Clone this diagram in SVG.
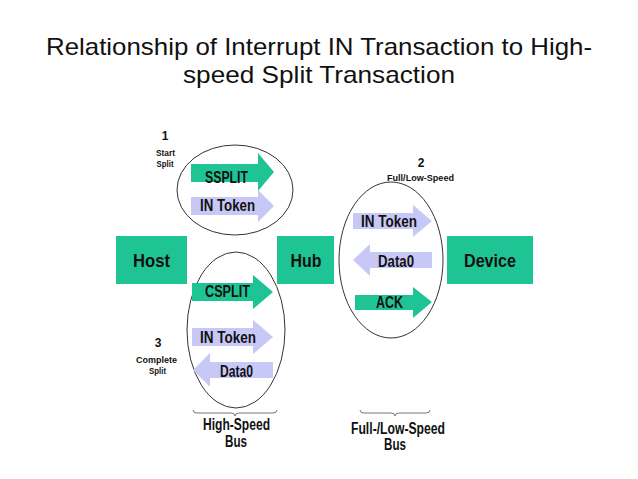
<svg xmlns="http://www.w3.org/2000/svg" width="638" height="479" viewBox="0 0 638 479">
<style>
.title{font-family:"Liberation Sans",Arial,sans-serif;font-size:24px;fill:#111;text-anchor:middle}
.box{fill:#1fc495}
.g{fill:#1fc495}
.l{fill:#c8c8f6}
.lbl{font-family:"Liberation Sans",Arial,sans-serif;font-weight:bold;fill:#111;text-anchor:middle}
.big{font-size:19px}
.arr{font-size:17px}
.sm{font-size:9px}
.num{font-size:12px}
.bus{font-size:16px}
.ell{fill:none;stroke:#333;stroke-width:1}
.brace{fill:none;stroke:#777;stroke-width:1}
</style>
<rect width="638" height="479" fill="#fff"/>
<text class="title" x="319" y="55" textLength="546" lengthAdjust="spacingAndGlyphs">Relationship of Interrupt IN Transaction to High-</text>
<text class="title" x="319" y="83" textLength="272" lengthAdjust="spacingAndGlyphs">speed Split Transaction</text>

<g id="connectors">
  <ellipse class="ell" cx="235" cy="190" rx="58" ry="45"/>
  <ellipse class="ell" cx="236" cy="330" rx="49" ry="78"/>
  <ellipse class="ell" cx="391" cy="260" rx="52" ry="78"/>
  <path class="brace" d="M193 410 Q193 413 197 413 L231 413 Q235 413 235 416 Q235 413 239 413 L273 413 Q277 413 277 410"/>
  <path class="brace" d="M360 410 Q360 413 364 413 L391 413 Q395 413 395 416 Q395 413 399 413 L426 413 Q430 413 430 410"/>
</g>

<g id="host"><rect class="box" x="116" y="236" width="71" height="48"/><text class="lbl big" x="151.5" y="267" textLength="37" lengthAdjust="spacingAndGlyphs">Host</text></g>
<g id="hub"><rect class="box" x="277" y="236" width="57" height="48"/><text class="lbl big" x="306" y="267" textLength="31" lengthAdjust="spacingAndGlyphs">Hub</text></g>
<g id="device"><rect class="box" x="447" y="236" width="86" height="48"/><text class="lbl big" x="490" y="267" textLength="52" lengthAdjust="spacingAndGlyphs">Device</text></g>

<g id="ssplit"><polygon class="g" points="191,164 258,164 258,153 274,172 258,191 258,182 191,182"/><text class="lbl arr" x="226.5" y="183" textLength="43" lengthAdjust="spacingAndGlyphs">SSPLIT</text></g>
<g id="intoken1"><polygon class="l" points="191,197 258,197 258,190 274,206 258,222 258,215 191,215"/><text class="lbl arr" x="227.5" y="211" textLength="55" lengthAdjust="spacingAndGlyphs">IN Token</text></g>
<g id="csplit"><polygon class="g" points="192,283 253,283 253,275 273,292 253,309 253,301 192,301"/><text class="lbl arr" x="227.5" y="297" textLength="45" lengthAdjust="spacingAndGlyphs">CSPLIT</text></g>
<g id="intoken2"><polygon class="l" points="192,328 253,328 253,320 273,337 253,354 253,346 192,346"/><text class="lbl arr" x="228" y="343" textLength="56" lengthAdjust="spacingAndGlyphs">IN Token</text></g>
<g id="data0a"><polygon class="l" points="193,370 210,353 210,362 273,362 273,378 210,378 210,387"/><text class="lbl arr" x="236.5" y="377" textLength="33" lengthAdjust="spacingAndGlyphs">Data0</text></g>
<g id="intoken3"><polygon class="l" points="353,213 413,213 413,205 432,221 413,237 413,229 353,229"/><text class="lbl arr" x="389" y="227" textLength="56" lengthAdjust="spacingAndGlyphs">IN Token</text></g>
<g id="data0b"><polygon class="l" points="353,260 370,244 370,252 432,252 432,268 370,268 370,276"/><text class="lbl arr" x="396" y="267" textLength="36" lengthAdjust="spacingAndGlyphs">Data0</text></g>
<g id="ack"><polygon class="g" points="355,295 413,295 413,287 432,302 413,318 413,310 355,310"/><text class="lbl arr" x="389.5" y="308" textLength="27" lengthAdjust="spacingAndGlyphs">ACK</text></g>

<g id="label1"><text class="lbl num" x="165" y="140">1</text><text class="lbl sm" x="165.5" y="156" textLength="19" lengthAdjust="spacingAndGlyphs">Start</text><text class="lbl sm" x="165" y="167" textLength="17" lengthAdjust="spacingAndGlyphs">Split</text></g>
<g id="label2"><text class="lbl num" x="421" y="167">2</text><text class="lbl sm" x="420.5" y="181" textLength="67" lengthAdjust="spacingAndGlyphs">Full/Low-Speed</text></g>
<g id="label3"><text class="lbl num" x="158" y="347">3</text><text class="lbl sm" x="156.5" y="363" textLength="41" lengthAdjust="spacingAndGlyphs">Complete</text><text class="lbl sm" x="157.5" y="374" textLength="17" lengthAdjust="spacingAndGlyphs">Split</text></g>
<g id="hsbus"><text class="lbl bus" x="236.5" y="430" textLength="67" lengthAdjust="spacingAndGlyphs">High-Speed</text><text class="lbl bus" x="236" y="447" textLength="22" lengthAdjust="spacingAndGlyphs">Bus</text></g>
<g id="flbus"><text class="lbl bus" x="398" y="434" textLength="94" lengthAdjust="spacingAndGlyphs">Full-/Low-Speed</text><text class="lbl bus" x="395" y="450" textLength="22" lengthAdjust="spacingAndGlyphs">Bus</text></g>
</svg>
